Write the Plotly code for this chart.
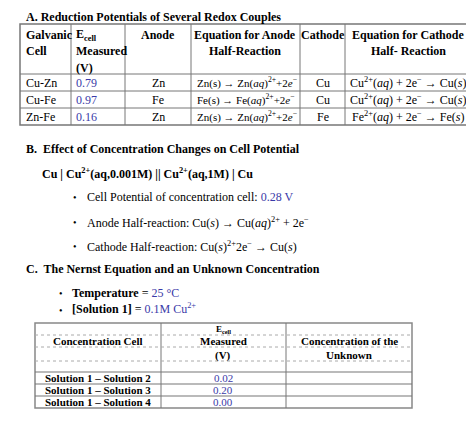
import plotly.graph_objects as go

# === Data ===
cells_a = ["Cu-Zn", "Cu-Fe", "Zn-Fe"]
ecell_a = ["0.79", "0.97", "0.16"]
anodes = ["Zn", "Fe", "Zn"]
anode_eq = ["Zn(s) → Zn(<i>aq</i>)<sup>2+</sup>+2<i>e</i><sup>−</sup>",
            "Fe(s) → Fe(<i>aq</i>)<sup>2+</sup>+2<i>e</i><sup>−</sup>",
            "Zn(s) → Zn(<i>aq</i>)<sup>2+</sup>+2<i>e</i><sup>−</sup>"]
cathodes = ["Cu", "Cu", "Fe"]
cathode_eq = ["Cu<sup>2+</sup>(<i>aq</i>) + 2e<sup>−</sup> → Cu(<i>s</i>)",
              "Cu<sup>2+</sup>(<i>aq</i>) + 2e<sup>−</sup> → Cu(<i>s</i>)",
              "Fe<sup>2+</sup>(<i>aq</i>) + 2e<sup>−</sup> → Fe(<i>s</i>)"]
conc_cells = ["Solution 1 – Solution 2", "Solution 1 – Solution 3", "Solution 1 – Solution 4"]
ecell_c = ["0.02", "0.20", "0.00"]
cell_potential = "0.28 V"
temperature = "25 °C"
solution1 = "0.1M Cu<sup>2+</sup>"

BLUE = "#3a3aa8"
FONT = "Liberation Serif, DejaVu Serif, serif"
fig = go.Figure()
shapes = []
ann = []


def text(x, y, s, size=12, bold=False, color="black", anchor="left"):
    if bold:
        s = "<b>" + s + "</b>"
    ann.append(dict(x=x, y=y, text=s, showarrow=False, xanchor=anchor, yanchor="middle",
                    font=dict(family=FONT, size=size, color=color)))


def line(x0, y0, x1, y1, color="#777", width=1, dash=None):
    shapes.append(dict(type="line", x0=x0, y0=y0, x1=x1, y1=y1,
                       line=dict(color=color, width=width, dash=dash)))


# --- Table A ---
text(16, 9, "A. Reduction Potentials of Several Redox Couples", bold=True)
ax = [12, 63, 117, 183, 292, 337, 462]
ay = [16, 66, 83, 100, 117]
shapes.append(dict(type="rect", x0=ax[0], y0=ay[0], x1=ax[-1], y1=ay[-1], line=dict(color="#777", width=1.5)))
for x in ax[1:-1]:
    line(x, ay[0], x, ay[-1])
for y in ay[1:-1]:
    line(ax[0], y, ax[-1], y)
text(16, 27, "Galvanic", bold=True)
text(16, 43, "Cell", bold=True)
text(66, 27, "E<sub>cell</sub>", bold=True)
text(66, 43, "Measured", bold=True)
text(66, 60, "(V)", bold=True)
text(150, 27, "Anode", bold=True, anchor="center")
text(237, 27, "Equation for Anode", bold=True, anchor="center")
text(237, 43, "Half-Reaction", bold=True, anchor="center")
text(315, 27, "Cathode", bold=True, anchor="center")
text(400, 27, "Equation for Cathode", bold=True, anchor="center")
text(400, 43, "Half- Reaction", bold=True, anchor="center")
for i in range(len(cells_a)):
    yc = (ay[i + 1] + ay[i + 2]) / 2
    text(16, yc, cells_a[i])
    text(66, yc, ecell_a[i], color=BLUE)
    text(150, yc, anodes[i], anchor="center")
    text(187, yc, anode_eq[i], size=11)
    text(315, yc, cathodes[i], anchor="center")
    text(400, yc, cathode_eq[i], anchor="center")

# --- Section B ---
text(16, 141, "B.  Effect of Concentration Changes on Cell Potential", bold=True)
text(32, 165, "Cu | Cu<sup>2+</sup>(aq,0.001M) || Cu<sup>2+</sup>(aq,1M) | Cu", bold=True)
text(63, 189, "•", size=10)
text(77, 189, "Cell Potential of concentration cell: <span style='color:%s'>%s</span>" % (BLUE, cell_potential))
text(63, 214, "•", size=10)
text(77, 214, "Anode Half-reaction: Cu(<i>s</i>) → Cu(<i>aq</i>)<sup>2+</sup> + 2e<sup>−</sup>")
text(63, 238, "•", size=10)
text(77, 238, "Cathode Half-reaction: Cu(<i>s</i>)<sup>2+</sup>2e<sup>−</sup> → Cu(<i>s</i>)")

# --- Section C ---
text(16, 261, "C.  The Nernst Equation and an Unknown Concentration", bold=True)
text(49, 285, "•", size=10)
text(62, 285, "<b>Temperature</b> = <span style='color:%s'>%s</span>" % (BLUE, temperature))
text(49, 302, "•", size=10)
text(62, 300, "<b>[Solution 1]</b> = <span style='color:%s'>%s</span>" % (BLUE, solution1))

cx = [27, 153, 278, 404]
shapes.append(dict(type="rect", x0=cx[0], y0=315, x1=cx[-1], y1=400, line=dict(color="#888", width=1.5)))
for x in cx[1:-1]:
    line(x, 315, x, 400)
for y in [327, 339, 353]:
    line(cx[0], y, cx[-1], y, color="#aaa", dash="dot")
for y in [364, 376, 388]:
    line(cx[0], y, cx[-1], y, color="#777", width=1.2)
text(90, 333, "Concentration Cell", size=11, bold=True, anchor="center")
text(215, 321, "E<sub>cell</sub>", size=9, bold=True, anchor="center")
text(215, 333, "Measured", size=11, bold=True, anchor="center")
text(215, 347, "(V)", size=11, bold=True, anchor="center")
text(341, 333, "Concentration of the", size=11, bold=True, anchor="center")
text(341, 347, "Unknown", size=11, bold=True, anchor="center")
for i in range(len(conc_cells)):
    yc = 370 + 12 * i
    text(90, yc, conc_cells[i], size=11, bold=True, anchor="center")
    text(215, yc, ecell_c[i], size=11, color=BLUE, anchor="center")

shapes.append(dict(type="rect", x0=0, y0=419, x1=474, y1=425, fillcolor="#e8e8e8", line=dict(width=0)))

fig.update_layout(
    width=474, height=425, margin=dict(l=0, r=0, t=0, b=0),
    plot_bgcolor="white", paper_bgcolor="white",
    xaxis=dict(range=[0, 474], visible=False, fixedrange=True),
    yaxis=dict(range=[425, 0], visible=False, fixedrange=True),
    shapes=shapes, annotations=ann, showlegend=False,
)

fig.write_html("out.html")
